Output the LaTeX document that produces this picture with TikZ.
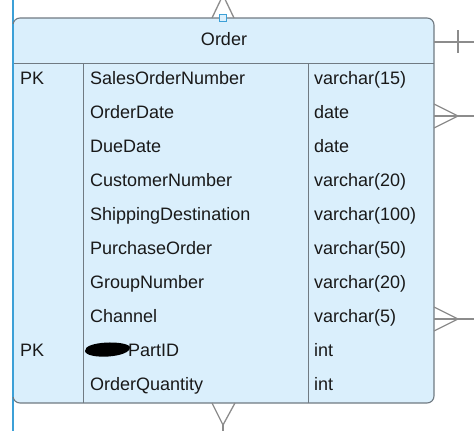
\documentclass[tikz,border=0pt]{standalone}
\usepackage{fontspec}
\setmainfont{Liberation Sans}
\definecolor{boxfill}{RGB}{218,239,252}
\definecolor{boxline}{RGB}{112,122,130}
\definecolor{relline}{RGB}{140,140,140}
\definecolor{selblue}{RGB}{60,160,215}
\begin{document}
\begin{tikzpicture}[x=1pt,y=-1pt,
  entity/.style={draw=boxline,fill=boxfill,line width=1.1pt,rounded corners=7pt},
  divider/.style={draw=boxline,line width=1pt},
  rel/.style={draw=relline,line width=1.3pt},
  txt/.style={inner sep=0pt,anchor=base west,font=\fontsize{18}{20}\selectfont,text=black!90},
  hdr/.style={inner sep=0pt,anchor=base,font=\fontsize{18}{20}\selectfont,text=black!90},
  handle/.style={draw=selblue,fill=boxfill,line width=0.9pt,minimum size=7pt,inner sep=0pt}]
\useasboundingbox (0,0) rectangle (474,431);
\clip (0,0) rectangle (474,431);
% selection line at left
\coordinate (bt) at (13,0);
\coordinate (bb) at (13,431);
\draw[selblue,line width=1.4pt] (bt) -- (bb);
% entity box
\node[entity,minimum width=421pt,minimum height=385pt,inner sep=0pt] (order) at (223.5,210.5) {};
\coordinate (hl) at (13,63);
\coordinate (hr) at (434,63);
\draw[divider] (hl) -- (hr);
\coordinate (c1t) at (83,63);
\coordinate (c1b) at (83,403);
\coordinate (c2t) at (308,63);
\coordinate (c2b) at (308,403);
\draw[divider] (c1t) -- (c1b);
\draw[divider] (c2t) -- (c2b);
\coordinate (lt) at (13,24);
\coordinate (lb) at (13,397);
\draw[selblue,line width=1.2pt] (lt) -- (lb);
% header
\node[hdr] (title) at (224,45.5) {Order};
% rows
\node[txt] (pk1) at (20,84.5) {PK};
\node[txt] (n1) at (90,84.5) {SalesOrderNumber};
\node[txt] (t1) at (314,84.5) {varchar(15)};
\node[txt] (n2) at (90,118.5) {OrderDate};
\node[txt] (t2) at (314,118.5) {date};
\node[txt] (n3) at (90,152.5) {DueDate};
\node[txt] (t3) at (314,152.5) {date};
\node[txt] (n4) at (90,186.5) {CustomerNumber};
\node[txt] (t4) at (314,186.5) {varchar(20)};
\node[txt] (n5) at (90,220.5) {ShippingDestination};
\node[txt] (t5) at (314,220.5) {varchar(100)};
\node[txt] (n6) at (90,254.5) {PurchaseOrder};
\node[txt] (t6) at (314,254.5) {varchar(50)};
\node[txt] (n7) at (90,288.5) {GroupNumber};
\node[txt] (t7) at (314,288.5) {varchar(20)};
\node[txt] (n8) at (90,322.5) {Channel};
\node[txt] (t8) at (314,322.5) {varchar(5)};
\node[txt] (pk2) at (20,356.5) {PK};
\fill[black] (85,351) .. controls (84,341) and (126,340) .. (130,347) .. controls (131,358) and (86,360) .. (85,351);
\node[txt] (n9) at (128,356.5) {PartID};
\node[txt] (t9) at (314,356.5) {int};
\node[txt] (n10) at (90,390.5) {OrderQuantity};
\node[txt] (t10) at (314,390.5) {int};
% right: one
\coordinate (r1a) at (434,42);
\coordinate (r1b) at (474,42);
\coordinate (r1t) at (458,30);
\coordinate (r1d) at (458,53);
\draw[rel] (r1a) -- (r1b);
\draw[rel] (r1t) -- (r1d);
% right: many (116)
\coordinate (r2a) at (434,116);
\coordinate (r2b) at (474,116);
\coordinate (r2p) at (458,116);
\coordinate (r2u) at (434,104);
\coordinate (r2l) at (434,128);
\draw[rel] (r2a) -- (r2b);
\draw[rel] (r2u) -- (r2p) -- (r2l);
% right: many (319)
\coordinate (r3a) at (434,319);
\coordinate (r3b) at (474,319);
\coordinate (r3p) at (458,319);
\coordinate (r3u) at (434,307);
\coordinate (r3l) at (434,331);
\draw[rel] (r3a) -- (r3b);
\draw[rel] (r3u) -- (r3p) -- (r3l);
% top: many
\coordinate (tp) at (223,-5);
\coordinate (tl) at (212,18);
\coordinate (tr) at (234,18);
\draw[rel] (tl) -- (tp) -- (tr);
% bottom: many
\coordinate (bp) at (223,425);
\coordinate (bl) at (212,403);
\coordinate (br) at (235,403);
\coordinate (be) at (223,435);
\draw[rel] (bl) -- (bp) -- (br);
\draw[rel] (bp) -- (be);
% handle
\node[handle] (hnd) at (223,18) {};
\end{tikzpicture}
\end{document}
